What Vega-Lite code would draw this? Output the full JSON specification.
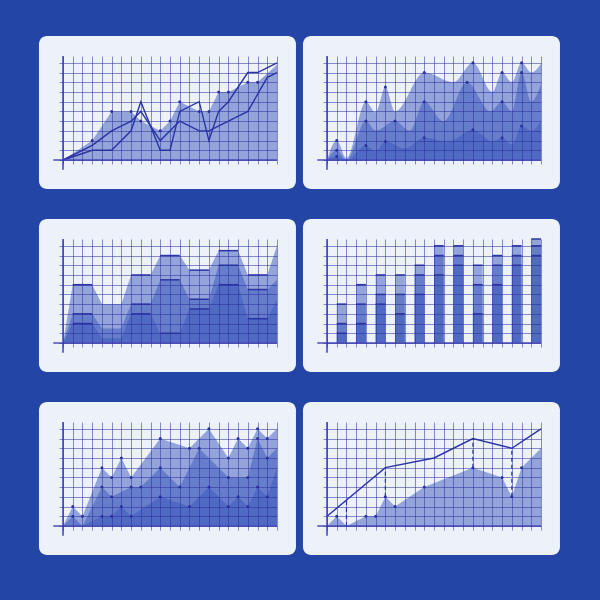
{
  "$schema": "https://vega.github.io/schema/vega-lite/v6.json",
  "background": "#2346a6",
  "padding": {"left": 38, "top": 35, "right": 41, "bottom": 46},
  "autosize": {"type": "pad"},
  "bounds": "flush",
  "columns": 2,
  "spacing": {"row": 79, "column": 50},
  "datasets": {
    "p1area": [
      {"x": 0, "y": 0}, {"x": 3, "y": 2}, {"x": 5, "y": 5}, {"x": 7, "y": 5}, {"x": 8, "y": 4},
      {"x": 10, "y": 3}, {"x": 11, "y": 4}, {"x": 12, "y": 6}, {"x": 14, "y": 5}, {"x": 15, "y": 5},
      {"x": 16, "y": 7}, {"x": 17, "y": 7}, {"x": 19, "y": 8}, {"x": 20, "y": 8}, {"x": 22, "y": 9.8}
    ],
    "p1lines": [
      {"s": "A", "x": 0, "y": 0}, {"s": "A", "x": 3, "y": 1}, {"s": "A", "x": 5, "y": 1}, {"s": "A", "x": 7, "y": 3},
      {"s": "A", "x": 8, "y": 6}, {"s": "A", "x": 10, "y": 1}, {"s": "A", "x": 11, "y": 1}, {"s": "A", "x": 12, "y": 5},
      {"s": "A", "x": 14, "y": 6}, {"s": "A", "x": 15, "y": 2}, {"s": "A", "x": 16, "y": 5}, {"s": "A", "x": 17, "y": 6},
      {"s": "A", "x": 19, "y": 9}, {"s": "A", "x": 20, "y": 9}, {"s": "A", "x": 22, "y": 10},
      {"s": "B", "x": 0, "y": 0}, {"s": "B", "x": 3, "y": 1.5}, {"s": "B", "x": 5, "y": 3}, {"s": "B", "x": 7, "y": 4},
      {"s": "B", "x": 8, "y": 5}, {"s": "B", "x": 10, "y": 2}, {"s": "B", "x": 12, "y": 4}, {"s": "B", "x": 14, "y": 3},
      {"s": "B", "x": 15, "y": 3}, {"s": "B", "x": 17, "y": 4}, {"s": "B", "x": 19, "y": 5}, {"s": "B", "x": 21, "y": 8.5},
      {"s": "B", "x": 22, "y": 9}
    ],
    "p2": [
      {"s": "top", "x": 0, "y": 0, "pt": 0}, {"s": "top", "x": 1, "y": 2, "pt": 1}, {"s": "top", "x": 2, "y": 0.2, "pt": 0},
      {"s": "top", "x": 4, "y": 6, "pt": 1}, {"s": "top", "x": 5, "y": 4.9, "pt": 0}, {"s": "top", "x": 6, "y": 7.5, "pt": 1},
      {"s": "top", "x": 7, "y": 5, "pt": 0}, {"s": "top", "x": 10, "y": 9, "pt": 1}, {"s": "top", "x": 13, "y": 8, "pt": 0},
      {"s": "top", "x": 15, "y": 10, "pt": 1}, {"s": "top", "x": 17, "y": 7, "pt": 0}, {"s": "top", "x": 18, "y": 9, "pt": 1},
      {"s": "top", "x": 19, "y": 8, "pt": 0}, {"s": "top", "x": 20, "y": 10, "pt": 1}, {"s": "top", "x": 21, "y": 9, "pt": 0},
      {"s": "top", "x": 22, "y": 9.9, "pt": 0},
      {"s": "mid", "x": 0, "y": 0, "pt": 0}, {"s": "mid", "x": 1, "y": 1, "pt": 1}, {"s": "mid", "x": 2, "y": 0, "pt": 0},
      {"s": "mid", "x": 4, "y": 4, "pt": 1}, {"s": "mid", "x": 5, "y": 3, "pt": 0}, {"s": "mid", "x": 7, "y": 4, "pt": 1},
      {"s": "mid", "x": 8.5, "y": 3, "pt": 0}, {"s": "mid", "x": 10, "y": 6, "pt": 1}, {"s": "mid", "x": 12, "y": 4, "pt": 0},
      {"s": "mid", "x": 14.4, "y": 8, "pt": 1}, {"s": "mid", "x": 16.8, "y": 5, "pt": 0}, {"s": "mid", "x": 18, "y": 6, "pt": 1},
      {"s": "mid", "x": 19, "y": 5, "pt": 0}, {"s": "mid", "x": 20, "y": 9, "pt": 1}, {"s": "mid", "x": 21, "y": 6, "pt": 0},
      {"s": "mid", "x": 22, "y": 7.8, "pt": 0},
      {"s": "low", "x": 0, "y": 0, "pt": 0}, {"s": "low", "x": 1, "y": 0.35, "pt": 1}, {"s": "low", "x": 2, "y": 0, "pt": 0},
      {"s": "low", "x": 4, "y": 1.5, "pt": 1}, {"s": "low", "x": 5, "y": 0.9, "pt": 0}, {"s": "low", "x": 6, "y": 1.9, "pt": 1},
      {"s": "low", "x": 8, "y": 1.2, "pt": 0}, {"s": "low", "x": 10, "y": 2.3, "pt": 1}, {"s": "low", "x": 12.5, "y": 1.9, "pt": 0},
      {"s": "low", "x": 15, "y": 3.1, "pt": 1}, {"s": "low", "x": 17, "y": 1.9, "pt": 0}, {"s": "low", "x": 18, "y": 2.3, "pt": 1},
      {"s": "low", "x": 19, "y": 1.6, "pt": 0}, {"s": "low", "x": 20, "y": 3.5, "pt": 1}, {"s": "low", "x": 21, "y": 3, "pt": 0},
      {"s": "low", "x": 22, "y": 4, "pt": 0}
    ],
    "p3": [
      {"s": "top", "x": 0, "y": 0}, {"s": "top", "x": 1, "y": 6}, {"s": "top", "x": 3, "y": 6}, {"s": "top", "x": 4, "y": 4},
      {"s": "top", "x": 6, "y": 4}, {"s": "top", "x": 7, "y": 7}, {"s": "top", "x": 9, "y": 7}, {"s": "top", "x": 10, "y": 9},
      {"s": "top", "x": 12, "y": 9}, {"s": "top", "x": 13, "y": 7.5}, {"s": "top", "x": 15, "y": 7.5}, {"s": "top", "x": 16, "y": 9.5},
      {"s": "top", "x": 18, "y": 9.5}, {"s": "top", "x": 19, "y": 7}, {"s": "top", "x": 21, "y": 7}, {"s": "top", "x": 22, "y": 10},
      {"s": "mid", "x": 0, "y": 0}, {"s": "mid", "x": 1, "y": 3}, {"s": "mid", "x": 3, "y": 3}, {"s": "mid", "x": 4, "y": 1.5},
      {"s": "mid", "x": 6, "y": 1.5}, {"s": "mid", "x": 7, "y": 4}, {"s": "mid", "x": 9, "y": 4}, {"s": "mid", "x": 10, "y": 6.5},
      {"s": "mid", "x": 12, "y": 6.5}, {"s": "mid", "x": 13, "y": 4.5}, {"s": "mid", "x": 15, "y": 4.5}, {"s": "mid", "x": 16, "y": 8},
      {"s": "mid", "x": 18, "y": 8}, {"s": "mid", "x": 19, "y": 5.5}, {"s": "mid", "x": 21, "y": 5.5}, {"s": "mid", "x": 22, "y": 6.5},
      {"s": "low", "x": 0, "y": 0}, {"s": "low", "x": 1, "y": 2}, {"s": "low", "x": 3, "y": 2}, {"s": "low", "x": 4, "y": 0.5},
      {"s": "low", "x": 6, "y": 0.5}, {"s": "low", "x": 7, "y": 3}, {"s": "low", "x": 9, "y": 3}, {"s": "low", "x": 10, "y": 1},
      {"s": "low", "x": 12, "y": 1}, {"s": "low", "x": 13, "y": 3.5}, {"s": "low", "x": 15, "y": 3.5}, {"s": "low", "x": 16, "y": 6},
      {"s": "low", "x": 18, "y": 6}, {"s": "low", "x": 19, "y": 2.5}, {"s": "low", "x": 21, "y": 2.5}, {"s": "low", "x": 22, "y": 4.5}
    ],
    "p3flat": [
      {"x0": 1, "x1": 3, "y": 6}, {"x0": 1, "x1": 3, "y": 3}, {"x0": 1, "x1": 3, "y": 2},
      {"x0": 7, "x1": 9, "y": 7}, {"x0": 7, "x1": 9, "y": 4}, {"x0": 7, "x1": 9, "y": 3},
      {"x0": 10, "x1": 12, "y": 9}, {"x0": 10, "x1": 12, "y": 6.5}, {"x0": 10, "x1": 12, "y": 1},
      {"x0": 13, "x1": 15, "y": 7.5}, {"x0": 13, "x1": 15, "y": 4.5}, {"x0": 13, "x1": 15, "y": 3.5},
      {"x0": 16, "x1": 18, "y": 9.5}, {"x0": 16, "x1": 18, "y": 8}, {"x0": 16, "x1": 18, "y": 6},
      {"x0": 19, "x1": 21, "y": 7}, {"x0": 19, "x1": 21, "y": 5.5}, {"x0": 19, "x1": 21, "y": 2.5}
    ],
    "p4": [
      {"x0": 1, "x1": 2, "y": 4}, {"x0": 1, "x1": 2, "y": 2}, {"x0": 1, "x1": 2, "y": 1},
      {"x0": 3, "x1": 4, "y": 6}, {"x0": 3, "x1": 4, "y": 4}, {"x0": 3, "x1": 4, "y": 2},
      {"x0": 5, "x1": 6, "y": 7}, {"x0": 5, "x1": 6, "y": 5}, {"x0": 5, "x1": 6, "y": 4},
      {"x0": 7, "x1": 8, "y": 7}, {"x0": 7, "x1": 8, "y": 5}, {"x0": 7, "x1": 8, "y": 3},
      {"x0": 9, "x1": 10, "y": 8}, {"x0": 9, "x1": 10, "y": 7}, {"x0": 9, "x1": 10, "y": 5},
      {"x0": 11, "x1": 12, "y": 10}, {"x0": 11, "x1": 12, "y": 9}, {"x0": 11, "x1": 12, "y": 7},
      {"x0": 13, "x1": 14, "y": 10}, {"x0": 13, "x1": 14, "y": 9}, {"x0": 13, "x1": 14, "y": 8},
      {"x0": 15, "x1": 16, "y": 8}, {"x0": 15, "x1": 16, "y": 6}, {"x0": 15, "x1": 16, "y": 3},
      {"x0": 17, "x1": 18, "y": 9}, {"x0": 17, "x1": 18, "y": 8}, {"x0": 17, "x1": 18, "y": 6},
      {"x0": 19, "x1": 20, "y": 10}, {"x0": 19, "x1": 20, "y": 9}, {"x0": 19, "x1": 20, "y": 8},
      {"x0": 21, "x1": 22, "y": 10.7}, {"x0": 21, "x1": 22, "y": 10}, {"x0": 21, "x1": 22, "y": 9}
    ],
    "p5": [
      {"s": "top", "x": 0, "y": 0}, {"s": "top", "x": 1, "y": 2}, {"s": "top", "x": 2, "y": 1}, {"s": "top", "x": 4, "y": 6},
      {"s": "top", "x": 5, "y": 5}, {"s": "top", "x": 6, "y": 7}, {"s": "top", "x": 7, "y": 5}, {"s": "top", "x": 10, "y": 9},
      {"s": "top", "x": 13, "y": 8}, {"s": "top", "x": 15, "y": 10}, {"s": "top", "x": 17, "y": 7}, {"s": "top", "x": 18, "y": 9},
      {"s": "top", "x": 19, "y": 8}, {"s": "top", "x": 20, "y": 10}, {"s": "top", "x": 21, "y": 9}, {"s": "top", "x": 22, "y": 10},
      {"s": "mid", "x": 0, "y": 0}, {"s": "mid", "x": 1, "y": 1}, {"s": "mid", "x": 2, "y": 0}, {"s": "mid", "x": 4, "y": 4},
      {"s": "mid", "x": 5, "y": 3}, {"s": "mid", "x": 7, "y": 4}, {"s": "mid", "x": 8, "y": 4}, {"s": "mid", "x": 10, "y": 6},
      {"s": "mid", "x": 12, "y": 4}, {"s": "mid", "x": 14, "y": 8}, {"s": "mid", "x": 17, "y": 5}, {"s": "mid", "x": 19, "y": 5},
      {"s": "mid", "x": 20, "y": 9}, {"s": "mid", "x": 21, "y": 7}, {"s": "mid", "x": 22, "y": 8},
      {"s": "low", "x": 0, "y": 0}, {"s": "low", "x": 2, "y": 0}, {"s": "low", "x": 4, "y": 1}, {"s": "low", "x": 5, "y": 1},
      {"s": "low", "x": 6, "y": 2}, {"s": "low", "x": 7, "y": 1}, {"s": "low", "x": 10, "y": 3}, {"s": "low", "x": 13, "y": 2},
      {"s": "low", "x": 15, "y": 4}, {"s": "low", "x": 17, "y": 2}, {"s": "low", "x": 18, "y": 3}, {"s": "low", "x": 19, "y": 2},
      {"s": "low", "x": 20, "y": 4}, {"s": "low", "x": 21, "y": 3}, {"s": "low", "x": 22, "y": 6}
    ],
    "p6area": [
      {"x": 0, "y": 0}, {"x": 1, "y": 1}, {"x": 2, "y": 0}, {"x": 4, "y": 1}, {"x": 5, "y": 1}, {"x": 6, "y": 3},
      {"x": 7, "y": 2}, {"x": 10, "y": 4}, {"x": 15, "y": 6}, {"x": 18, "y": 5}, {"x": 19, "y": 3}, {"x": 20, "y": 6},
      {"x": 22, "y": 8}
    ],
    "p6line": [
      {"x": 0, "y": 1}, {"x": 6, "y": 6}, {"x": 11, "y": 7}, {"x": 15, "y": 9}, {"x": 19, "y": 8}, {"x": 22, "y": 10}
    ],
    "p6drop": [
      {"x": 2, "lo": 0, "hi": 2.67}, {"x": 6, "lo": 3, "hi": 6}, {"x": 15, "lo": 6, "hi": 9}, {"x": 19, "lo": 3, "hi": 8}
    ]
  },
  "concat": [
    {
      "width": 214, "height": 104,
      "layer": [
        {"data": {"values": [{}]}, "mark": {"type": "rect", "color": "#edf2fa", "cornerRadius": 8},
         "encoding": {
           "x": {"datum": -2.47, "type": "quantitative", "title": null, "scale": {"domain": [0, 22], "nice": false, "zero": false}, "axis": {"tickCount": 22, "zindex": 1}},
           "x2": {"datum": 23.95},
           "y": {"datum": -2.98, "type": "quantitative", "title": null, "scale": {"domain": [0, 10.7], "nice": false, "zero": false}, "axis": {"tickCount": 10, "zindex": 1}},
           "y2": {"datum": 12.76}}},
        {"data": {"name": "p1area"}, "mark": {"type": "area", "color": "#3a56bc", "opacity": 0.5},
         "encoding": {"x": {"field": "x", "type": "quantitative", "title": null}, "y": {"field": "y", "type": "quantitative", "title": null}}},
        {"data": {"name": "p1lines"}, "mark": {"type": "line", "color": "#2b34a5", "strokeWidth": 1.4},
         "encoding": {"x": {"field": "x", "type": "quantitative", "title": null}, "y": {"field": "y", "type": "quantitative", "title": null}, "detail": {"field": "s"}}},
        {"data": {"name": "p1area"}, "transform": [{"filter": "datum.x > 0 && datum.x < 22"}],
         "mark": {"type": "point", "filled": true, "size": 9, "color": "#2b34a0", "opacity": 1},
         "encoding": {"x": {"field": "x", "type": "quantitative", "title": null}, "y": {"field": "y", "type": "quantitative", "title": null}}},
        {"data": {"values": [{}]}, "mark": {"type": "rule", "color": "#4a4cbc", "strokeWidth": 1.6},
         "encoding": {"x": {"datum": -1, "type": "quantitative", "title": null}, "x2": {"datum": 22}, "y": {"datum": 0, "type": "quantitative", "title": null}}},
        {"data": {"values": [{}]}, "mark": {"type": "rule", "color": "#4a4cbc", "strokeWidth": 1.6},
         "encoding": {"x": {"datum": 0, "type": "quantitative", "title": null}, "y": {"datum": -1, "type": "quantitative", "title": null}, "y2": {"datum": 10.7}}}
      ]
    },
    {
      "width": 214, "height": 104,
      "layer": [
        {"data": {"values": [{}]}, "mark": {"type": "rect", "color": "#edf2fa", "cornerRadius": 8},
         "encoding": {
           "x": {"datum": -2.47, "type": "quantitative", "title": null, "scale": {"domain": [0, 22], "nice": false, "zero": false}, "axis": {"tickCount": 22, "zindex": 1}},
           "x2": {"datum": 23.95},
           "y": {"datum": -2.98, "type": "quantitative", "title": null, "scale": {"domain": [0, 10.7], "nice": false, "zero": false}, "axis": {"tickCount": 10, "zindex": 1}},
           "y2": {"datum": 12.76}}},
        {"data": {"name": "p2"}, "mark": {"type": "area", "color": "#3a56bc", "opacity": 0.5, "interpolate": "monotone"},
         "encoding": {"x": {"field": "x", "type": "quantitative", "title": null}, "y": {"field": "y", "type": "quantitative", "title": null, "stack": null}, "detail": {"field": "s"}}},
        {"data": {"name": "p2"}, "transform": [{"filter": "datum.pt == 1"}],
         "mark": {"type": "point", "filled": true, "size": 9, "color": "#2b34a0", "opacity": 1},
         "encoding": {"x": {"field": "x", "type": "quantitative", "title": null}, "y": {"field": "y", "type": "quantitative", "title": null}}},
        {"data": {"values": [{}]}, "mark": {"type": "rule", "color": "#4a4cbc", "strokeWidth": 1.6},
         "encoding": {"x": {"datum": -1, "type": "quantitative", "title": null}, "x2": {"datum": 22}, "y": {"datum": 0, "type": "quantitative", "title": null}}},
        {"data": {"values": [{}]}, "mark": {"type": "rule", "color": "#4a4cbc", "strokeWidth": 1.6},
         "encoding": {"x": {"datum": 0, "type": "quantitative", "title": null}, "y": {"datum": -1, "type": "quantitative", "title": null}, "y2": {"datum": 10.7}}}
      ]
    },
    {
      "width": 214, "height": 104,
      "layer": [
        {"data": {"values": [{}]}, "mark": {"type": "rect", "color": "#edf2fa", "cornerRadius": 8},
         "encoding": {
           "x": {"datum": -2.47, "type": "quantitative", "title": null, "scale": {"domain": [0, 22], "nice": false, "zero": false}, "axis": {"tickCount": 22, "zindex": 1}},
           "x2": {"datum": 23.95},
           "y": {"datum": -2.98, "type": "quantitative", "title": null, "scale": {"domain": [0, 10.7], "nice": false, "zero": false}, "axis": {"tickCount": 10, "zindex": 1}},
           "y2": {"datum": 12.76}}},
        {"data": {"name": "p3"}, "mark": {"type": "area", "color": "#3a56bc", "opacity": 0.5},
         "encoding": {"x": {"field": "x", "type": "quantitative", "title": null}, "y": {"field": "y", "type": "quantitative", "title": null, "stack": null}, "detail": {"field": "s"}}},
        {"data": {"name": "p3flat"}, "mark": {"type": "rule", "color": "#2b34a5", "strokeWidth": 1.5},
         "encoding": {"x": {"field": "x0", "type": "quantitative", "title": null}, "x2": {"field": "x1"}, "y": {"field": "y", "type": "quantitative", "title": null}}},
        {"data": {"values": [{}]}, "mark": {"type": "rule", "color": "#4a4cbc", "strokeWidth": 1.6},
         "encoding": {"x": {"datum": -1, "type": "quantitative", "title": null}, "x2": {"datum": 22}, "y": {"datum": 0, "type": "quantitative", "title": null}}},
        {"data": {"values": [{}]}, "mark": {"type": "rule", "color": "#4a4cbc", "strokeWidth": 1.6},
         "encoding": {"x": {"datum": 0, "type": "quantitative", "title": null}, "y": {"datum": -1, "type": "quantitative", "title": null}, "y2": {"datum": 10.7}}}
      ]
    },
    {
      "width": 214, "height": 104,
      "layer": [
        {"data": {"values": [{}]}, "mark": {"type": "rect", "color": "#edf2fa", "cornerRadius": 8},
         "encoding": {
           "x": {"datum": -2.47, "type": "quantitative", "title": null, "scale": {"domain": [0, 22], "nice": false, "zero": false}, "axis": {"tickCount": 22, "zindex": 1}},
           "x2": {"datum": 23.95},
           "y": {"datum": -2.98, "type": "quantitative", "title": null, "scale": {"domain": [0, 10.7], "nice": false, "zero": false}, "axis": {"tickCount": 10, "zindex": 1}},
           "y2": {"datum": 12.76}}},
        {"data": {"name": "p4"}, "mark": {"type": "rect", "color": "#3a56bc", "opacity": 0.5},
         "encoding": {"x": {"field": "x0", "type": "quantitative", "title": null}, "x2": {"field": "x1"}, "y": {"field": "y", "type": "quantitative", "title": null}, "y2": {"datum": 0}}},
        {"data": {"name": "p4"}, "mark": {"type": "rule", "color": "#2b34a5", "strokeWidth": 1.5},
         "encoding": {"x": {"field": "x0", "type": "quantitative", "title": null}, "x2": {"field": "x1"}, "y": {"field": "y", "type": "quantitative", "title": null}}},
        {"data": {"values": [{}]}, "mark": {"type": "rule", "color": "#4a4cbc", "strokeWidth": 1.6},
         "encoding": {"x": {"datum": -1, "type": "quantitative", "title": null}, "x2": {"datum": 22}, "y": {"datum": 0, "type": "quantitative", "title": null}}},
        {"data": {"values": [{}]}, "mark": {"type": "rule", "color": "#4a4cbc", "strokeWidth": 1.6},
         "encoding": {"x": {"datum": 0, "type": "quantitative", "title": null}, "y": {"datum": -1, "type": "quantitative", "title": null}, "y2": {"datum": 10.7}}}
      ]
    },
    {
      "width": 214, "height": 104,
      "layer": [
        {"data": {"values": [{}]}, "mark": {"type": "rect", "color": "#edf2fa", "cornerRadius": 8},
         "encoding": {
           "x": {"datum": -2.47, "type": "quantitative", "title": null, "scale": {"domain": [0, 22], "nice": false, "zero": false}, "axis": {"tickCount": 22, "zindex": 1}},
           "x2": {"datum": 23.95},
           "y": {"datum": -2.98, "type": "quantitative", "title": null, "scale": {"domain": [0, 10.7], "nice": false, "zero": false}, "axis": {"tickCount": 10, "zindex": 1}},
           "y2": {"datum": 12.76}}},
        {"data": {"name": "p5"}, "mark": {"type": "area", "color": "#3a56bc", "opacity": 0.5},
         "encoding": {"x": {"field": "x", "type": "quantitative", "title": null}, "y": {"field": "y", "type": "quantitative", "title": null, "stack": null}, "detail": {"field": "s"}}},
        {"data": {"name": "p5"}, "transform": [{"filter": "datum.x > 0 && datum.x < 22 && datum.y > 0"}],
         "mark": {"type": "point", "filled": true, "size": 9, "color": "#2b34a0", "opacity": 1},
         "encoding": {"x": {"field": "x", "type": "quantitative", "title": null}, "y": {"field": "y", "type": "quantitative", "title": null}}},
        {"data": {"values": [{}]}, "mark": {"type": "rule", "color": "#4a4cbc", "strokeWidth": 1.6},
         "encoding": {"x": {"datum": -1, "type": "quantitative", "title": null}, "x2": {"datum": 22}, "y": {"datum": 0, "type": "quantitative", "title": null}}},
        {"data": {"values": [{}]}, "mark": {"type": "rule", "color": "#4a4cbc", "strokeWidth": 1.6},
         "encoding": {"x": {"datum": 0, "type": "quantitative", "title": null}, "y": {"datum": -1, "type": "quantitative", "title": null}, "y2": {"datum": 10.7}}}
      ]
    },
    {
      "width": 214, "height": 104,
      "layer": [
        {"data": {"values": [{}]}, "mark": {"type": "rect", "color": "#edf2fa", "cornerRadius": 8},
         "encoding": {
           "x": {"datum": -2.47, "type": "quantitative", "title": null, "scale": {"domain": [0, 22], "nice": false, "zero": false}, "axis": {"tickCount": 22, "zindex": 1}},
           "x2": {"datum": 23.95},
           "y": {"datum": -2.98, "type": "quantitative", "title": null, "scale": {"domain": [0, 10.7], "nice": false, "zero": false}, "axis": {"tickCount": 10, "zindex": 1}},
           "y2": {"datum": 12.76}}},
        {"data": {"name": "p6area"}, "mark": {"type": "area", "color": "#3a56bc", "opacity": 0.5},
         "encoding": {"x": {"field": "x", "type": "quantitative", "title": null}, "y": {"field": "y", "type": "quantitative", "title": null}}},
        {"data": {"name": "p6drop"}, "mark": {"type": "rule", "color": "#2b34a5", "strokeWidth": 1.2, "strokeDash": [4, 3]},
         "encoding": {"x": {"field": "x", "type": "quantitative", "title": null}, "y": {"field": "lo", "type": "quantitative", "title": null}, "y2": {"field": "hi"}}},
        {"data": {"name": "p6line"}, "mark": {"type": "line", "color": "#2b34a5", "strokeWidth": 1.4},
         "encoding": {"x": {"field": "x", "type": "quantitative", "title": null}, "y": {"field": "y", "type": "quantitative", "title": null}}},
        {"data": {"name": "p6area"}, "transform": [{"filter": "datum.x > 0 && datum.x < 22 && datum.y > 0"}],
         "mark": {"type": "point", "filled": true, "size": 9, "color": "#2b34a0", "opacity": 1},
         "encoding": {"x": {"field": "x", "type": "quantitative", "title": null}, "y": {"field": "y", "type": "quantitative", "title": null}}},
        {"data": {"values": [{}]}, "mark": {"type": "rule", "color": "#4a4cbc", "strokeWidth": 1.6},
         "encoding": {"x": {"datum": -1, "type": "quantitative", "title": null}, "x2": {"datum": 22}, "y": {"datum": 0, "type": "quantitative", "title": null}}},
        {"data": {"values": [{}]}, "mark": {"type": "rule", "color": "#4a4cbc", "strokeWidth": 1.6},
         "encoding": {"x": {"datum": 0, "type": "quantitative", "title": null}, "y": {"datum": -1, "type": "quantitative", "title": null}, "y2": {"datum": 10.7}}}
      ]
    }
  ],
  "config": {
    "view": {"stroke": null},
    "axisX": {"tickCount": 22},
    "axisY": {"tickCount": 10},
    "axis": {
      "domain": false, "labels": false, "grid": true,
      "gridColor": "#2a2f9c", "gridOpacity": 0.6, "gridWidth": 0.9,
      "ticks": true, "tickSize": 4, "tickColor": "#2a2f9c", "tickOpacity": 0.6, "tickWidth": 0.9
    }
  }
}
